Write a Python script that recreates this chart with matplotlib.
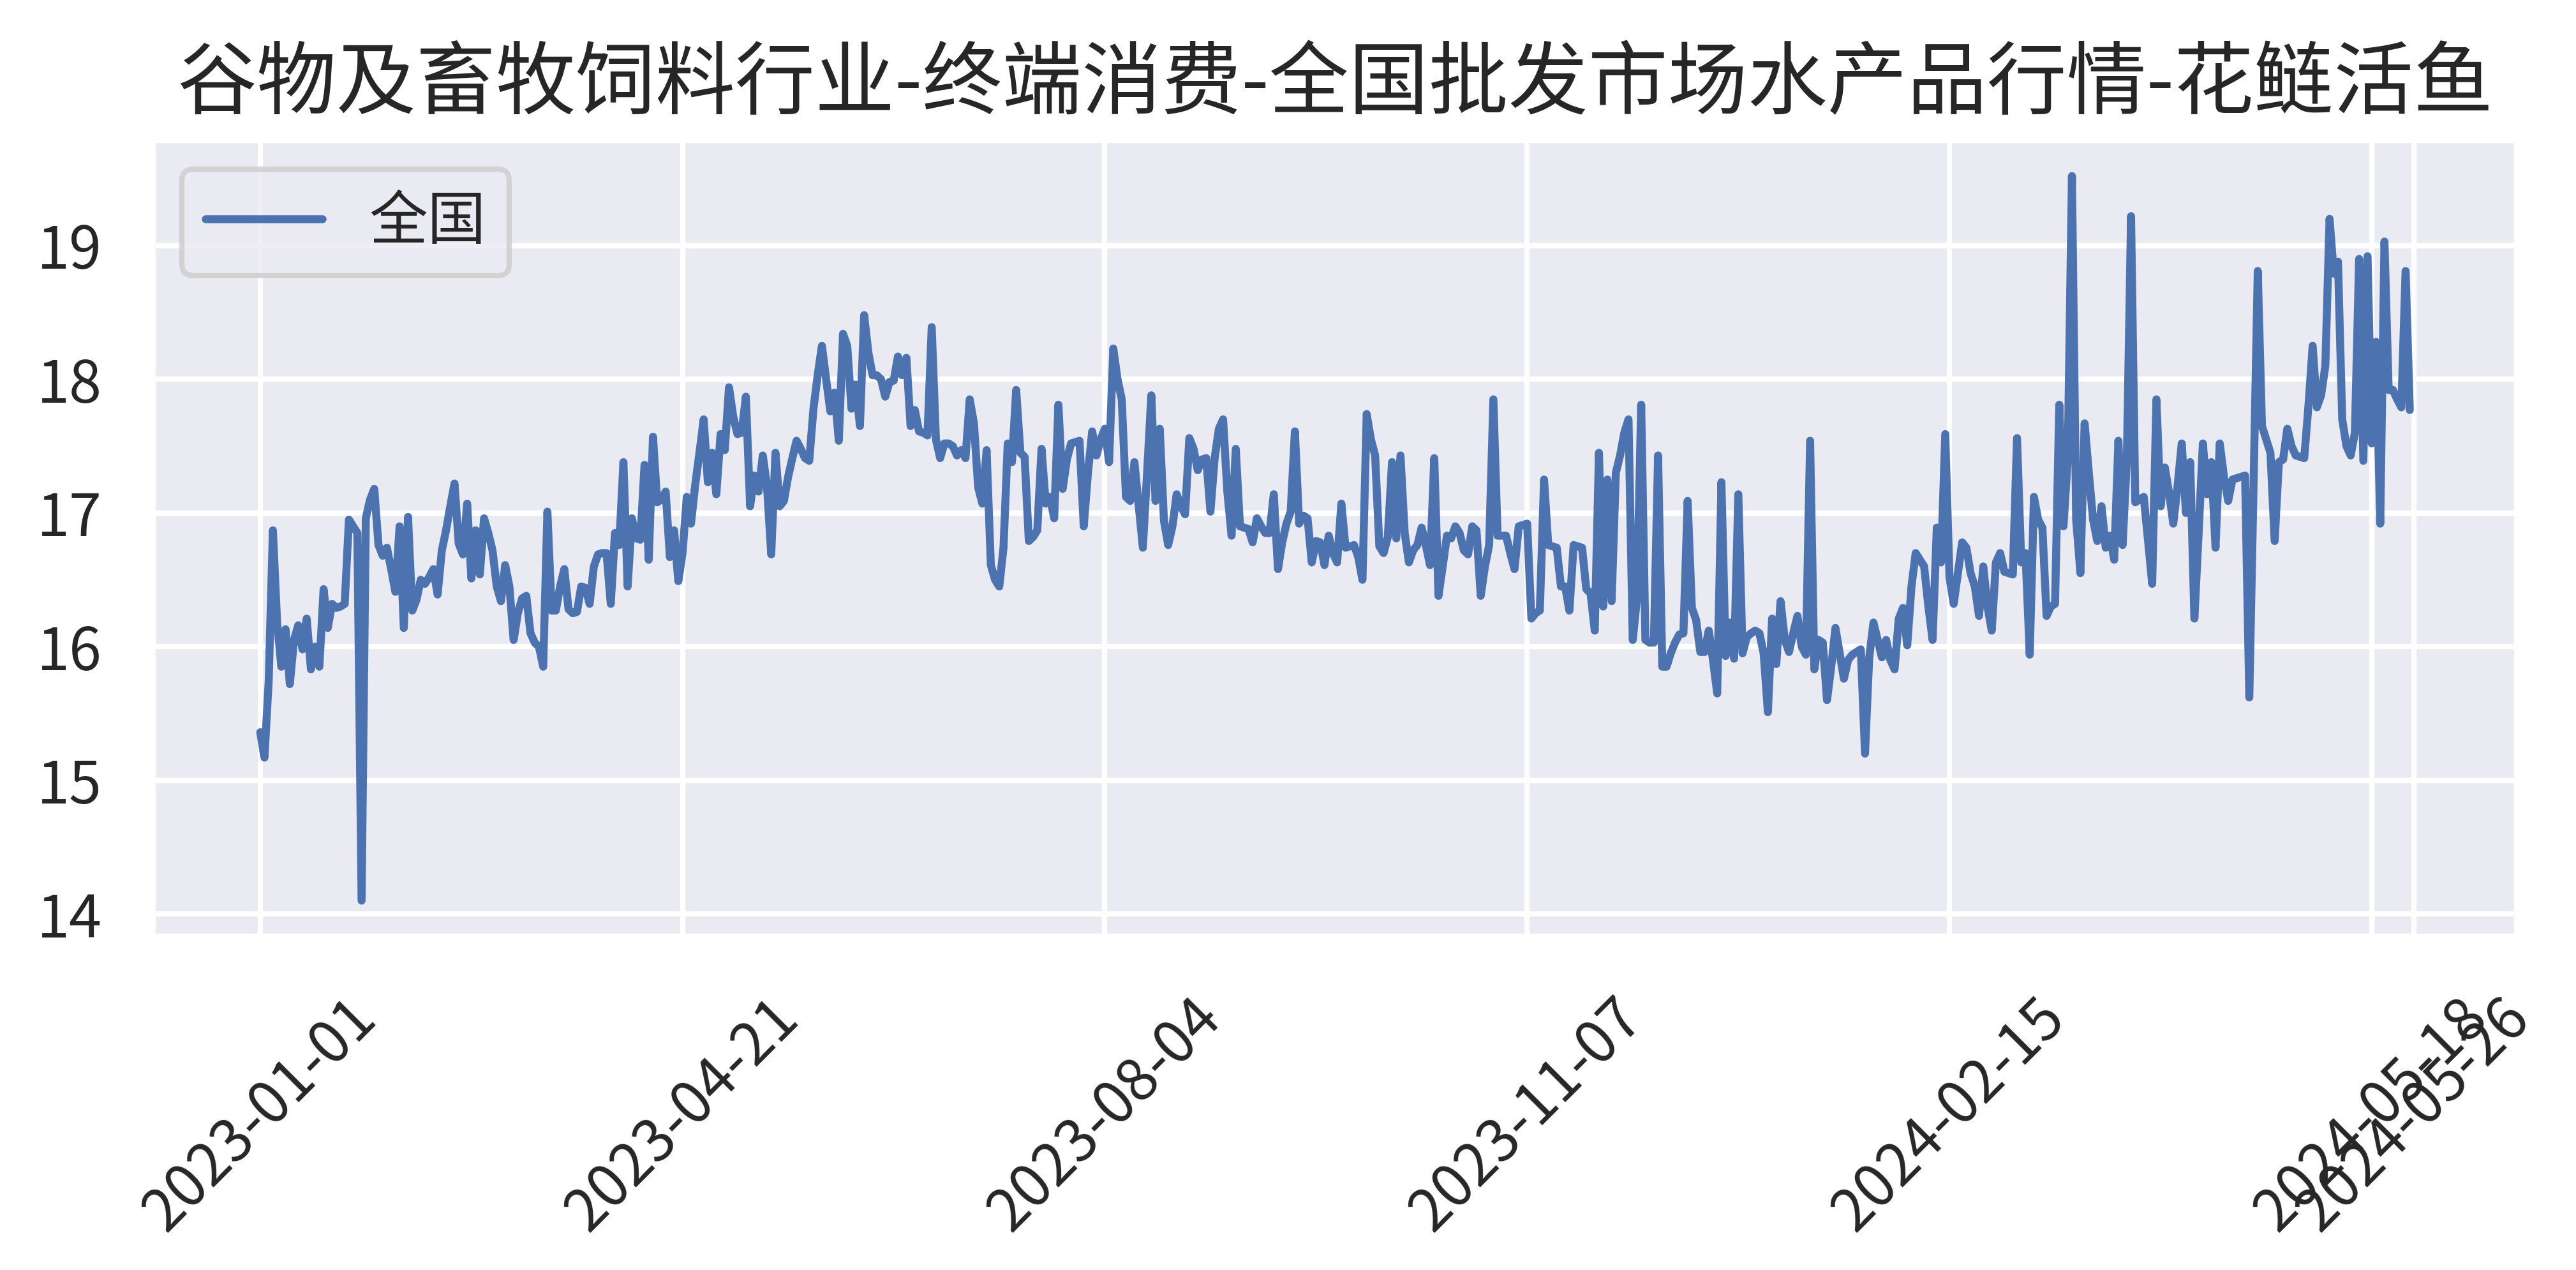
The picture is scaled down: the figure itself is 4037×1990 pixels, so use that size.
import matplotlib
matplotlib.use("Agg")
import matplotlib.pyplot as plt
import seaborn as sns

sns.set_theme(style="darkgrid")
plt.rcParams['font.family'] = ['Noto Sans CJK SC', 'DejaVu Sans']
plt.rcParams['axes.unicode_minus'] = False

title = "谷物及畜牧饲料行业-终端消费-全国批发市场水产品行情-花鲢活鱼"
series_label = "全国"

tick_labels = ["2023-01-01", "2023-04-21", "2023-08-04", "2023-11-07",
               "2024-02-15", "2024-05-18", "2024-05-26"]

prices = [
    15.36, 15.17, 15.74, 16.87, 16.18, 15.85, 16.13, 15.72, 16.05, 16.16,
    15.98, 16.21, 15.83, 16.00, 15.85, 16.43, 16.14, 16.32, 16.29, 16.30,
    16.32, 16.95, 16.90, 16.85, 14.10, 16.96, 17.10, 17.18, 16.76, 16.68,
    16.74, 16.58, 16.41, 16.90, 16.14, 16.97, 16.27, 16.35, 16.50, 16.47,
    16.52, 16.58, 16.39, 16.72, 16.87, 17.05, 17.22, 16.77, 16.69, 17.07,
    16.51, 16.87, 16.54, 16.96, 16.85, 16.72, 16.45, 16.34, 16.61, 16.45,
    16.05, 16.25, 16.36, 16.38, 16.10, 16.03, 16.00, 15.85, 17.01, 16.27,
    16.27, 16.45, 16.58, 16.28, 16.25, 16.26, 16.45, 16.44, 16.32, 16.60,
    16.69, 16.70, 16.70, 16.32, 16.85, 16.76, 17.38, 16.45, 16.96, 16.81,
    16.80, 17.36, 16.65, 17.57, 17.08, 17.10, 17.16, 16.67, 16.87, 16.49,
    16.70, 17.12, 16.92, 17.21, 17.45, 17.70, 17.23, 17.45, 17.14, 17.59,
    17.47, 17.94, 17.72, 17.59, 17.60, 17.87, 17.05, 17.28, 17.16, 17.43,
    17.20, 16.69, 17.45, 17.05, 17.09, 17.27, 17.41, 17.54, 17.48, 17.41,
    17.39, 17.78, 18.03, 18.25, 18.00, 17.76, 17.90, 17.54, 18.34, 18.25,
    17.78, 17.96, 17.65, 18.48, 18.20, 18.03, 18.03, 18.00, 17.87, 17.98,
    17.99, 18.17, 18.03, 18.16, 17.65, 17.77, 17.61, 17.60, 17.58, 18.39,
    17.55, 17.41, 17.52, 17.52, 17.50, 17.43, 17.47, 17.41, 17.85, 17.67,
    17.19, 17.07, 17.47, 16.61, 16.50, 16.45, 16.74, 17.52, 17.38, 17.92,
    17.45, 17.42, 16.79, 16.82, 16.87, 17.48, 17.07, 17.12, 16.96, 17.81,
    17.18, 17.40, 17.52, 17.53, 17.54, 16.90, 17.30, 17.61, 17.43, 17.55,
    17.63, 17.38, 18.23, 18.00, 17.85, 17.12, 17.09, 17.38, 17.06, 16.74,
    17.30, 17.88, 17.09, 17.63, 16.94, 16.76, 16.90, 17.14, 17.05, 16.99,
    17.56, 17.48, 17.32, 17.40, 17.41, 17.01, 17.41, 17.63, 17.70, 17.16,
    16.83, 17.48, 16.90, 16.89, 16.88, 16.78, 16.96, 16.90, 16.85, 16.85,
    17.14, 16.58, 16.78, 16.92, 17.01, 17.61, 16.92, 16.98, 16.96, 16.63,
    16.79, 16.78, 16.61, 16.83, 16.70, 16.63, 17.07, 16.74, 16.75, 16.76,
    16.67, 16.50, 17.74, 17.55, 17.43, 16.75, 16.70, 16.82, 17.38, 16.81,
    17.43, 16.85, 16.63, 16.72, 16.76, 16.89, 16.76, 16.61, 17.41, 16.38,
    16.60, 16.83, 16.81, 16.90, 16.85, 16.72, 16.69, 16.90, 16.87, 16.38,
    16.60, 16.76, 17.85, 16.83, 16.83, 16.83, 16.70, 16.58, 16.90, 16.91,
    16.92, 16.21, 16.25, 16.27, 17.25, 16.76, 16.75, 16.74, 16.45, 16.45,
    16.27, 16.76, 16.75, 16.74, 16.43, 16.40, 16.12, 17.45, 16.30, 17.25,
    16.34, 17.30, 17.43, 17.60, 17.70, 16.05, 16.36, 17.81, 16.05, 16.03,
    16.03, 17.43, 15.85, 15.85, 15.95, 16.03, 16.09, 16.10, 17.09, 16.29,
    16.20, 15.96, 15.96, 16.12, 15.90, 15.65, 17.23, 15.93, 16.18, 15.91,
    17.14, 15.95, 16.07, 16.10, 16.12, 16.10, 15.95, 15.51, 16.21, 15.87,
    16.34, 16.05, 15.96, 16.10, 16.23, 16.00, 15.94, 17.54, 15.83, 16.05,
    16.03, 15.60, 15.85, 16.14, 15.95, 15.76, 15.90, 15.94, 15.96, 15.98,
    15.20, 15.92, 16.18, 16.05, 15.92, 16.05, 15.90, 15.83, 16.21, 16.29,
    16.01, 16.45, 16.70, 16.65, 16.60, 16.30, 16.05, 16.89, 16.63, 17.59,
    16.52, 16.32, 16.55, 16.78, 16.74, 16.55, 16.45, 16.23, 16.60, 16.30,
    16.12, 16.63, 16.70, 16.56, 16.55, 16.54, 17.56, 16.63, 16.70, 15.94,
    17.12, 16.95, 16.89, 16.23, 16.30, 16.32, 17.81, 16.90, 17.40, 19.52,
    16.95, 16.55, 17.67, 17.30, 16.95, 16.79, 17.05, 16.74, 16.83, 16.65,
    17.54, 16.76, 17.40, 19.22, 17.08, 17.10, 17.12, 16.80, 16.47, 17.85,
    17.05, 17.34, 17.15, 16.92, 17.20, 17.52, 17.00, 17.38, 16.21, 16.85,
    17.52, 17.14, 17.38, 16.74, 17.52, 17.27, 17.09, 17.25, 17.26, 17.27,
    17.28, 15.62, 17.20, 18.81, 17.65, 17.55, 17.45, 16.79, 17.38, 17.40,
    17.63, 17.50, 17.43, 17.42, 17.41, 17.80, 18.25, 17.79, 17.88, 18.10,
    19.20, 18.79, 18.88, 17.70, 17.50, 17.43, 17.60, 18.90, 17.39, 18.92,
    17.52, 18.28, 16.92, 19.03, 17.92, 17.92, 17.85, 17.79, 18.81, 17.77,
]

n = len(prices)
positions = list(range(n))
tick_positions = list(range(0, n, 100)) + [n]

fig, ax = plt.subplots(figsize=(4037 / 600, 1990 / 600), dpi=600)
fig.subplots_adjust(left=0.0593, right=0.9772, bottom=0.2623, top=0.8899)

ax.plot(positions, prices, color="#4C72B0", linewidth=1.5, label=series_label)
ax.set_xticks(tick_positions)
ax.set_xticklabels(tick_labels, rotation=45)
ax.set_title(title, fontsize=15)
ax.legend(loc="upper left")

fig.savefig("out.png", dpi=600)
